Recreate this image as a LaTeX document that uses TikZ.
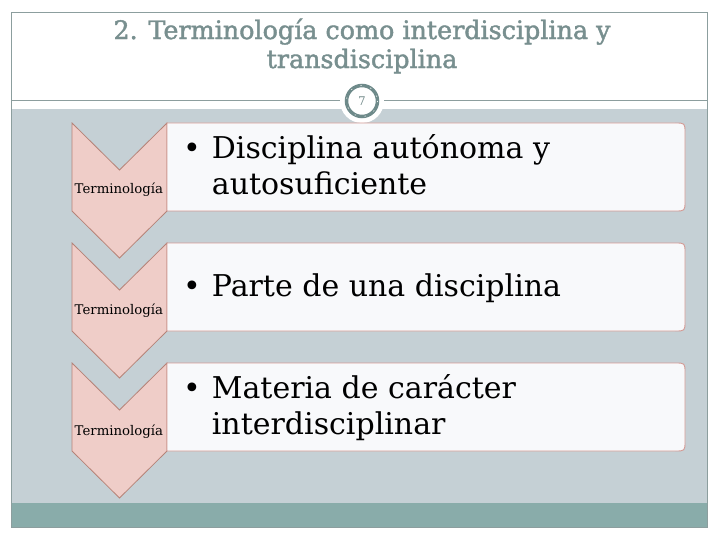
\documentclass[tikz,border=0pt]{standalone}
\usepackage{fontspec}
\setmainfont{DejaVu Serif}
\newfontfamily\titlefont{DejaVu Serif}[FakeBold=1.6]
\definecolor{bodygray}{HTML}{C5D0D5}
\definecolor{bandteal}{HTML}{89ACAA}
\definecolor{framegray}{HTML}{8C9E9E}
\definecolor{titlecol}{HTML}{788F8F}
\definecolor{ringcol}{HTML}{6E8A8A}
\definecolor{chevfill}{HTML}{EFCDC8}
\definecolor{chevline}{HTML}{B58378}
\definecolor{boxfill}{HTML}{F8F9FB}
\definecolor{boxline}{HTML}{D49A94}
\tikzset{
  chev/.style={fill=chevfill, draw=chevline, line width=0.8pt, line join=miter},
  itembox/.style={fill=boxfill, draw=boxline, line width=0.9pt},
  itemtext/.style={anchor=west, inner sep=0pt, font=\fontsize{30}{36}\selectfont, text=black},
  chevlabel/.style={anchor=west, inner sep=0pt, font=\fontsize{13.3}{15}\selectfont, text=black},
  titletext/.style={inner sep=0pt, font=\titlefont\fontsize{25.4}{29}\selectfont, text=titlecol, align=center}
}
\begin{document}
\begin{tikzpicture}[x=1pt,y=-1pt]
\useasboundingbox (0,0) rectangle (720,540);
\fill[white] (0,0) rectangle (720,540);
\fill[bodygray] (11,109) rectangle (707,503);
\fill[bandteal] (11,503) rectangle (707,527);
\draw[framegray, line width=0.8pt] (11,12) rectangle (707,527);
\draw[framegray, line width=0.8pt] (11,100) -- (707,100);

% title
\node[titletext] (title) at (362,46) {2. Terminología como interdisciplina y\\transdisciplina};

% page number circle
\fill[white] (362,101) circle (22);
\draw[ringcol, line width=3.5pt] (362,101) circle (15.5);
\draw[white, line width=0.6pt, dash pattern=on 1.2pt off 9pt] (362,101) circle (15.5);
\node[inner sep=0pt, font=\fontsize{12}{14}\selectfont, text=titlecol] (num) at (362,101) {7};

% chevrons and boxes
\foreach \T/\nm in {123/a,243/b,363/c}{
  \path[chev] (72,\T) -- (119.5,\T+47) -- (167,\T) -- (167,\T+88) -- (119.5,\T+135) -- (72,\T+88) -- cycle;
  \path[itembox] (167,\T) -- (675,\T) .. controls (685,\T) .. (685,\T+10) -- (685,\T+78) .. controls (685,\T+88) .. (675,\T+88) -- (167,\T+88) -- cycle;
}
\node[chevlabel] (l1) at (74.5,190) {Terminología};
\node[chevlabel] (l2) at (74.5,311) {Terminología};
\node[chevlabel] (l3) at (74.5,432) {Terminología};

\node[itemtext] (t1) at (183,169) {\begin{tabular}{@{}l@{\hspace{11pt}}l@{}}•&Disciplina autónoma y\\&autosuficiente\end{tabular}};
\node[itemtext] (t2) at (183,289) {\begin{tabular}{@{}l@{\hspace{11pt}}l@{}}•&Parte de una disciplina\end{tabular}};
\node[itemtext] (t3) at (183,409) {\begin{tabular}{@{}l@{\hspace{11pt}}l@{}}•&Materia de carácter\\&interdisciplinar\end{tabular}};
\end{tikzpicture}
\end{document}
